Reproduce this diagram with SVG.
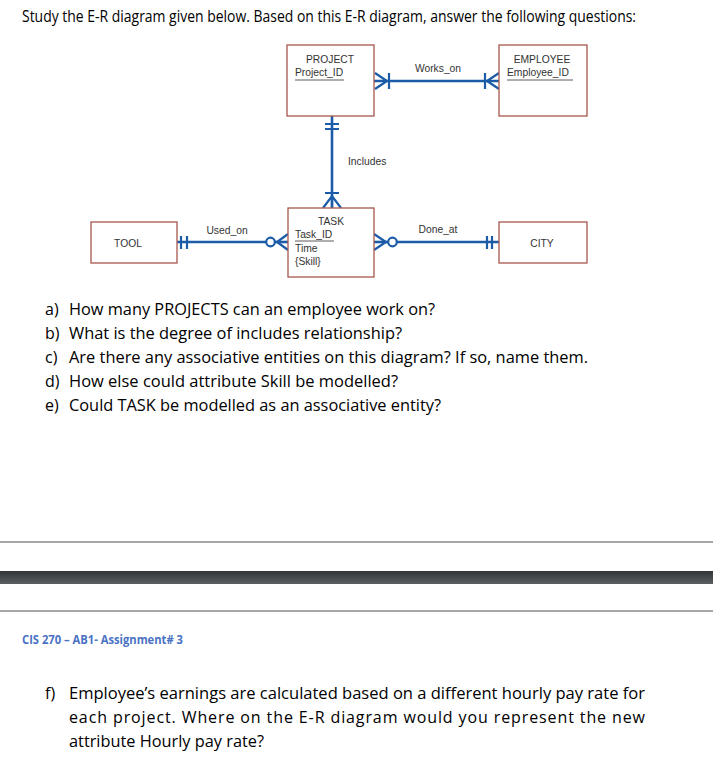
<svg xmlns="http://www.w3.org/2000/svg" width="713" height="760" viewBox="0 0 713 760">
<style>
.ent{fill:#fff;stroke:#a8574d;stroke-width:1.3}
.lbl{font-family:"Liberation Sans",Arial,sans-serif;font-size:10.3px;fill:#333}
.cn{stroke:#1b5ba7;stroke-width:2.6;fill:none}
.cn2{stroke:#1b5ba7;stroke-width:2.2;fill:none}
.ul{stroke:#333;stroke-width:0.8}
.q{font-family:"Open Sans","Liberation Sans",sans-serif;font-size:16px;fill:#000}
.rule{stroke:#8a8a8a;stroke-width:1.6}
</style>
<defs>
<linearGradient id="band" x1="0" y1="0" x2="0" y2="1">
<stop offset="0" stop-color="#303437"/>
<stop offset="1" stop-color="#5a5f62"/>
</linearGradient>
</defs>
<rect width="713" height="760" fill="#fff"/>
<text class="q" transform="translate(22,22) scale(0.86,1)" x="0" y="0" font-size="14" textLength="714" lengthAdjust="spacingAndGlyphs">Study the E-R diagram given below. Based on this E-R diagram, answer the following questions:</text>

<g id="connectors">
<line class="cn" x1="374" y1="81" x2="499" y2="81"/>
<path class="cn2" d="M375,73 L387,81 L375,89 M389,73 V89"/>
<path class="cn2" d="M499,73 L487,81 L499,89 M485,73 V89"/>
<line class="cn" x1="332" y1="116" x2="332" y2="208"/>
<path class="cn2" d="M325,124 H339 M325,129 H339 M325,193 H339 M323,208 L332,196 L341,208 M332,196 V208"/>
<line class="cn" x1="177" y1="242" x2="266" y2="242"/>
<line class="cn" x1="275" y1="242" x2="288" y2="242"/>
<path class="cn2" d="M181,236 V249 M187,236 V249 M288,234 L277,242 L288,250"/>
<circle class="cn2" cx="270.5" cy="242" r="4.3"/>
<line class="cn" x1="374" y1="242" x2="388" y2="242"/>
<line class="cn" x1="397" y1="242" x2="499" y2="242"/>
<path class="cn2" d="M374,234 L386,242 L374,250 M487,236 V249 M492,236 V249"/>
<circle class="cn2" cx="392.5" cy="242" r="4.3"/>
<text class="lbl" x="438" y="72" text-anchor="middle">Works_on</text>
<text class="lbl" x="348" y="165">Includes</text>
<text class="lbl" x="227" y="234" text-anchor="middle">Used_on</text>
<text class="lbl" x="438" y="233" text-anchor="middle">Done_at</text>
</g>

<g id="project">
<rect class="ent" x="287" y="45" width="87" height="71"/>
<text class="lbl" x="330" y="63" text-anchor="middle">PROJECT</text>
<text class="lbl" x="295" y="76">Project_ID</text>
<line class="ul" x1="295" y1="80" x2="344" y2="80"/>
</g>
<g id="employee">
<rect class="ent" x="499" y="45" width="88" height="71"/>
<text class="lbl" x="542" y="63" text-anchor="middle">EMPLOYEE</text>
<text class="lbl" x="507" y="76">Employee_ID</text>
<line class="ul" x1="507" y1="80" x2="573" y2="80"/>
</g>
<g id="task">
<rect class="ent" x="288" y="208" width="86" height="69"/>
<text class="lbl" x="331" y="225" text-anchor="middle">TASK</text>
<text class="lbl" x="295" y="238">Task_ID</text>
<line class="ul" x1="295" y1="241" x2="334" y2="241"/>
<text class="lbl" x="295" y="252">Time</text>
<text class="lbl" x="295" y="265">{Skill}</text>
</g>
<g id="tool">
<rect class="ent" x="91" y="222" width="86" height="41"/>
<text class="lbl" x="128" y="247" text-anchor="middle">TOOL</text>
</g>
<g id="city">
<rect class="ent" x="499" y="222" width="88" height="41"/>
<text class="lbl" x="542" y="247" text-anchor="middle">CITY</text>
</g>

<g id="questions">
<text class="q" x="45" y="315">a)</text>
<text class="q" x="69" y="315" textLength="366" lengthAdjust="spacingAndGlyphs">How many PROJECTS can an employee work on?</text>
<text class="q" x="45" y="339">b)</text>
<text class="q" x="69" y="339" textLength="333" lengthAdjust="spacingAndGlyphs">What is the degree of includes relationship?</text>
<text class="q" x="45" y="363">c)</text>
<text class="q" x="69" y="363" textLength="519" lengthAdjust="spacingAndGlyphs">Are there any associative entities on this diagram? If so, name them.</text>
<text class="q" x="45" y="387">d)</text>
<text class="q" x="69" y="387" textLength="329" lengthAdjust="spacingAndGlyphs">How else could attribute Skill be modelled?</text>
<text class="q" x="45" y="411">e)</text>
<text class="q" x="69" y="411" textLength="372" lengthAdjust="spacingAndGlyphs">Could TASK be modelled as an associative entity?</text>
</g>

<line class="rule" x1="0" y1="542" x2="713" y2="542"/>
<rect x="0" y="571" width="713" height="13" fill="url(#band)"/>
<line class="rule" x1="0" y1="611" x2="713" y2="611"/>
<text x="22" y="644" font-family="'Open Sans','Liberation Sans',sans-serif" font-size="12" font-weight="bold" fill="#4a72c4" textLength="161" lengthAdjust="spacingAndGlyphs">CIS 270 – AB1- Assignment# 3</text>

<g id="question-f">
<text class="q" x="45" y="699">f)</text>
<text class="q" x="69" y="699" textLength="576" lengthAdjust="spacingAndGlyphs">Employee’s earnings are calculated based on a different hourly pay rate for</text>
<text class="q" x="69" y="723" textLength="576" lengthAdjust="spacing">each project. Where on the E-R diagram would you represent the new</text>
<text class="q" x="69" y="747" textLength="195" lengthAdjust="spacingAndGlyphs">attribute Hourly pay rate?</text>
</g>
</svg>
